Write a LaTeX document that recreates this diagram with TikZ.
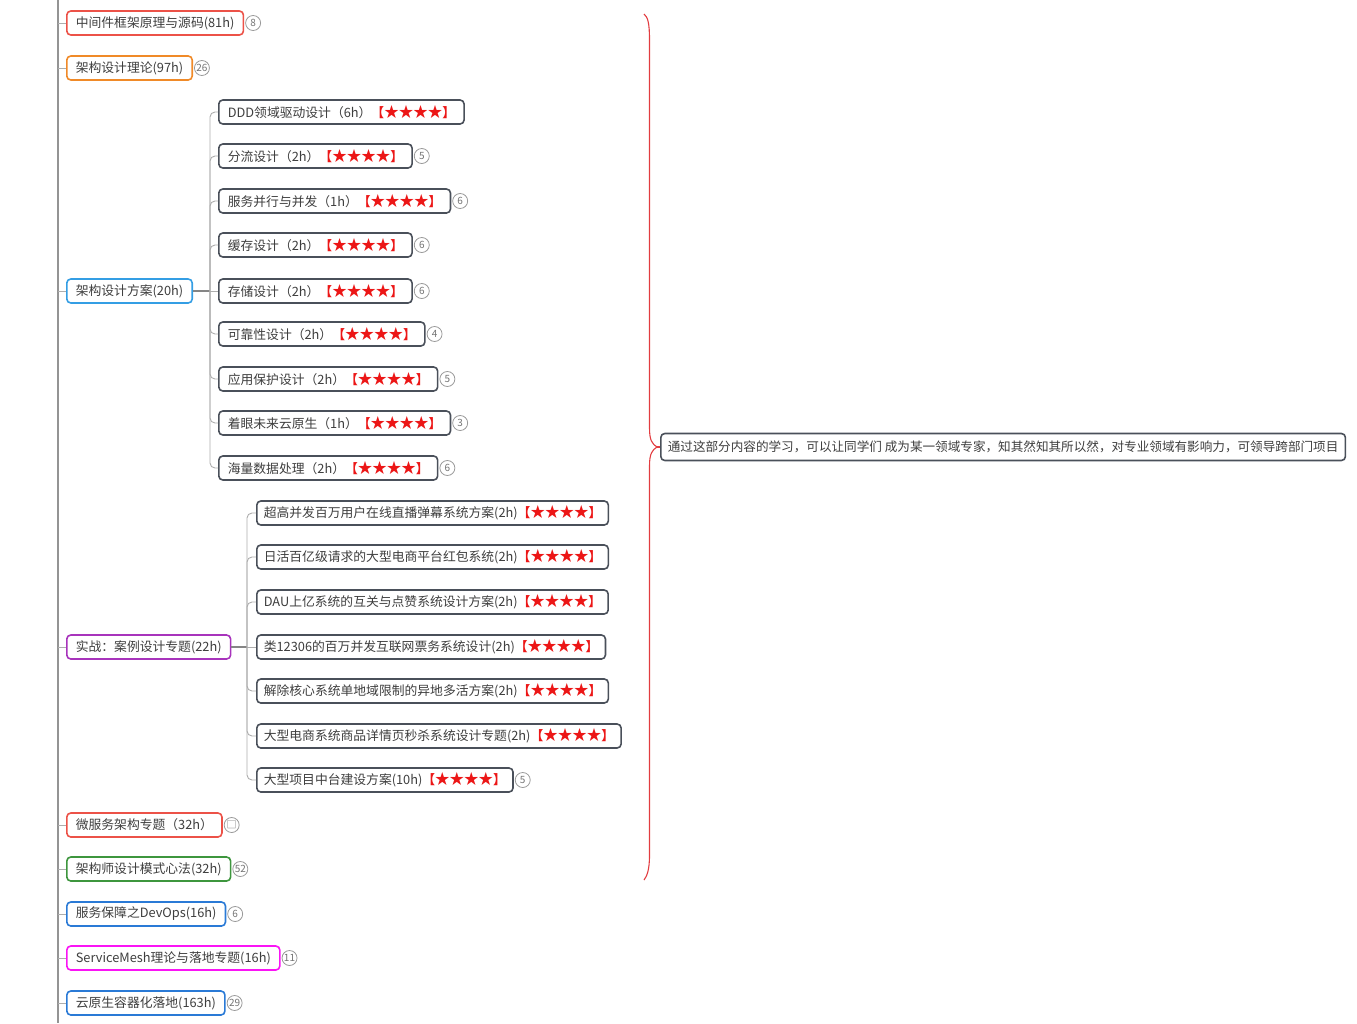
\documentclass[tikz,border=0pt]{standalone}
\usepackage{fontspec}
\setmainfont{Noto Sans CJK SC}
\usetikzlibrary{positioning}
\definecolor{mmred}{RGB}{236,82,72}
\definecolor{mmorange}{RGB}{240,138,40}
\definecolor{mmsky}{RGB}{52,158,228}
\definecolor{mmpurple}{RGB}{168,52,188}
\definecolor{mmgreen}{RGB}{62,150,62}
\definecolor{mmblue}{RGB}{42,122,214}
\definecolor{mmpink}{RGB}{250,20,245}
\definecolor{subgray}{RGB}{74,80,90}
\definecolor{txtgray}{RGB}{62,62,62}
\definecolor{starred}{RGB}{236,22,22}
\definecolor{bracered}{RGB}{226,60,64}
\newcommand{\stars}{{\bfseries\color{starred}【{\fontsize{14.5}{15}\selectfont ★★★★}】}}

\begin{document}
\begin{tikzpicture}[
  x=1pt, y=-1pt,
  font=\fontsize{12.8}{15}\selectfont,
  topic/.style={draw=#1, rounded corners=4pt, line width=1.6pt, anchor=west,
                minimum height=24pt, inner xsep=9pt, inner ysep=2pt,
                text=txtgray, fill=white},
  sub/.style={topic=subgray},
  badge/.style={circle, draw=black!40, line width=0.8pt, minimum size=15pt,
                inner sep=0pt, font=\fontsize{10}{10}\selectfont, text=black!55},
  trunk/.style={draw=black!42, line width=1.8pt},
  stub/.style={draw=black!32, line width=0.9pt, rounded corners=5pt},
  hub/.style={draw=black!48, line width=2.2pt},
  brace/.style={draw=bracered, line width=1.1pt},
]
\useasboundingbox (0,0) rectangle (1357,1023);

% ---- main topics (left column) ----
\node[topic=mmred] (mid) at (66,23) {中间件框架原理与源码(81h)};
\node[badge, right=1pt of mid] (midb) {8};
\node[topic=mmorange] (theo) at (66,68) {架构设计理论(97h)};
\node[badge, right=1pt of theo] (theob) {26};
\node[topic=mmsky] (plan) at (66,291) {架构设计方案(20h)};
\node[topic=mmpurple] (case) at (66,647) {实战：案例设计专题(22h)};
\node[topic=mmred] (micro) at (66,825) {微服务架构专题（32h）};
\node[badge, right=1pt of micro] (microb) {□};
\node[topic=mmgreen] (pat) at (66,869) {架构师设计模式心法(32h)};
\node[badge, right=1pt of pat] (patb) {52};
\node[topic=mmblue] (devops) at (66,914) {服务保障之DevOps(16h)};
\node[badge, right=1pt of devops] (devopsb) {6};
\node[topic=mmpink] (mesh) at (66,958) {ServiceMesh理论与落地专题(16h)};
\node[badge, right=1pt of mesh] (meshb) {11};
\node[topic=mmblue] (cloud) at (66,1003) {云原生容器化落地(163h)};
\node[badge, right=1pt of cloud] (cloudb) {29};

% ---- 架构设计方案 children ----
\node[sub] (ddd) at (218,112) {DDD领域驱动设计（6h）\stars};
\node[sub] (shunt) at (218,156) {分流设计（2h）\stars};
\node[badge, right=1pt of shunt] (shuntb) {5};
\node[sub] (para) at (218,201) {服务并行与并发（1h）\stars};
\node[badge, right=1pt of para] (parab) {6};
\node[sub] (cache) at (218,245) {缓存设计（2h）\stars};
\node[badge, right=1pt of cache] (cacheb) {6};
\node[sub] (store) at (218,291) {存储设计（2h）\stars};
\node[badge, right=1pt of store] (storeb) {6};
\node[sub] (rely) at (218,334) {可靠性设计（2h）\stars};
\node[badge, right=1pt of rely] (relyb) {4};
\node[sub] (guard) at (218,379) {应用保护设计（2h）\stars};
\node[badge, right=1pt of guard] (guardb) {5};
\node[sub] (native) at (218,423) {着眼未来云原生（1h）\stars};
\node[badge, right=1pt of native] (nativeb) {3};
\node[sub] (bulk) at (218,468) {海量数据处理（2h）\stars};
\node[badge, right=1pt of bulk] (bulkb) {6};

% ---- 实战 children ----
\node[sub, inner xsep=7pt] (live) at (256,513) {超高并发百万用户在线直播弹幕系统方案(2h)\stars};
\node[sub, inner xsep=7pt] (redp) at (256,557) {日活百亿级请求的大型电商平台红包系统(2h)\stars};
\node[sub, inner xsep=7pt] (like) at (256,602) {DAU上亿系统的互关与点赞系统设计方案(2h)\stars};
\node[sub, inner xsep=7pt] (tick) at (256,647) {类12306的百万并发互联网票务系统设计(2h)\stars};
\node[sub, inner xsep=7pt] (multi) at (256,691) {解除核心系统单地域限制的异地多活方案(2h)\stars};
\node[sub, inner xsep=7pt] (seck) at (256,736) {大型电商系统商品详情页秒杀系统设计专题(2h)\stars};
\node[sub, inner xsep=7pt] (midp) at (256,780) {大型项目中台建设方案(10h)\stars};
\node[badge, right=1pt of midp] (midpb) {5};

% ---- summary ----
\node[sub, inner xsep=7pt, minimum height=27pt, font=\fontsize{12.6}{15}\selectfont] (sum) at (660,447)
  {通过这部分内容的学习，可以让同学们 成为某一领域专家，知其然知其所以然，对专业领域有影响力，可领导跨部门项目};

% ---- connectors ----
\coordinate (ttop) at (58,0);
\coordinate (tbot) at (58,1023);
\draw[trunk] (ttop) -- (tbot);
\draw[stub] (mid.west -| ttop) -- (mid.west);
\draw[stub] (theo.west -| ttop) -- (theo.west);
\draw[stub] (plan.west -| ttop) -- (plan.west);
\draw[stub] (case.west -| ttop) -- (case.west);
\draw[stub] (micro.west -| ttop) -- (micro.west);
\draw[stub] (pat.west -| ttop) -- (pat.west);
\draw[stub] (devops.west -| ttop) -- (devops.west);
\draw[stub] (mesh.west -| ttop) -- (mesh.west);
\draw[stub] (cloud.west -| ttop) -- (cloud.west);

\coordinate (planhub) at (210,291);
\draw[hub] (plan.east) -- (planhub);
\draw[stub] (planhub) |- (ddd.west);
\draw[stub] (planhub) |- (shunt.west);
\draw[stub] (planhub) |- (para.west);
\draw[stub] (planhub) |- (cache.west);
\draw[stub] (planhub) -- (store.west);
\draw[stub] (planhub) |- (rely.west);
\draw[stub] (planhub) |- (guard.west);
\draw[stub] (planhub) |- (native.west);
\draw[stub] (planhub) |- (bulk.west);

\coordinate (casehub) at (247,647);
\draw[hub] (case.east) -- (casehub);
\draw[stub] (casehub) |- (live.west);
\draw[stub] (casehub) |- (redp.west);
\draw[stub] (casehub) |- (like.west);
\draw[stub] (casehub) -- (tick.west);
\draw[stub] (casehub) |- (multi.west);
\draw[stub] (casehub) |- (seck.west);
\draw[stub] (casehub) |- (midp.west);

% brace round the left part
\coordinate (btop) at (644,14);
\coordinate (bbot) at (644,880);
\coordinate (btip) at (657,447);
\draw[brace] (btop) .. controls (648,17) and (649.5,24) .. (649.5,40)
  -- (649.5,428) .. controls (649.5,440) and (652,444) .. (btip)
  .. controls (652,450) and (649.5,454) .. (649.5,466)
  -- (649.5,855) .. controls (649.5,870) and (647,876) .. (bbot);
\draw[brace] (btip) -- (sum.west);
\end{tikzpicture}
\end{document}
